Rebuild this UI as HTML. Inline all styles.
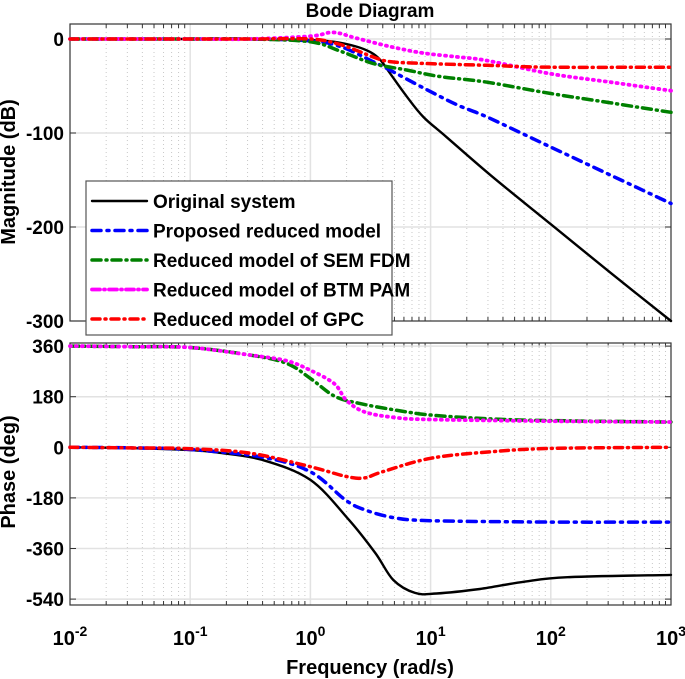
<!DOCTYPE html>
<html><head><meta charset="utf-8"><style>
body{margin:0;background:#fff}
svg{display:block;font-family:"Liberation Sans Narrow","Liberation Sans",sans-serif;font-weight:bold}
</style></head><body>
<svg id="c" width="685" height="679" viewBox="0 0 685 679"></svg>
<script>
// ---- data (x = log10 frequency) ----
const magOrigX=[-2,-1,-0.5,0,0.2,0.38,0.5,0.58,0.66,0.8,0.94,1.13,1.5,2,2.5,3];
const magOrig=[0,0,0,-1,-3,-8,-14,-22,-36,-61,-83,-104,-145,-197,-249,-300];
const magPropX=[-2,-1,-0.5,0,0.25,0.52,0.66,0.94,1.22,1.47,2,2.5,3];
const magProp=[0,0,0,-2,-8,-24,-33,-52,-70,-83,-115,-145,-175];
const magSemX=[-2,-1,-0.5,0,0.25,0.52,0.8,1.08,1.47,2,2.5,3];
const magSem=[0,0,0,-3,-13,-26,-33,-40,-46,-58,-68,-78];
const magBtmX=[-2,-1,-0.5,0,0.19,0.38,0.66,0.94,1.22,1.47,2,2.5,3];
const magBtm=[0,0,0,3,7,1,-8,-15,-19,-23,-37,-46,-55];
const magGpcX=[-2,-1,-0.5,0,0.25,0.52,0.66,0.94,1.47,2,3];
const magGpc=[0,0,0,0,-6,-19,-24,-26,-28,-30,-30];
const phOrigX=[-2,-1.5,-1,-0.77,-0.4,0,0.32,0.54,0.69,0.87,1.05,1.41,1.78,2.14,3];
const phOrig=[0,-3,-10,-19,-45,-116,-258,-376,-472,-518,-520,-504,-478,-462,-454];
const phPropX=[-2,-1.5,-1,-0.4,0,0.29,0.45,0.69,1,2,3];
const phProp=[0,-2,-8,-35,-87,-187,-222,-250,-261,-266,-266];
const phGpcX=[-2,-1.5,-1,-0.5,0,0.3,0.45,0.6,1,1.5,2,3];
const phGpc=[0,-2,-5,-21,-69,-104,-109,-87,-39,-16,-4,0];
const phSemX=[-2,-1.5,-1,-0.5,-0.2,0,0.2,0.4,0.7,1,1.5,2,3];
const phSem=[360,358,355,328,299,245,182,157,133,115,101,95,90];
const phBtmX=[-2,-1.5,-1,-0.5,-0.2,0,0.2,0.3,0.45,0.7,1,2,3];
const phBtm=[360,358,355,328,308,274,226,167,126,106,99,93,90];
const decLabels=["-2","-1","0","1","2","3"];
const magTicks=[0,-100,-200,-300];
const phTicks=[360,180,0,-180,-360,-540];

const NS="http://www.w3.org/2000/svg";
const svg=document.getElementById('c');
function el(t,a,p){const e=document.createElementNS(NS,t);for(const k in a)e.setAttribute(k,a[k]);(p||svg).appendChild(e);return e;}
const X0=70,X1=671;
const sx=l=>X0+(l+2)*(X1-X0)/5;
const syM=v=>39-v*0.94;
const syP=v=>447.3-v*0.2811;
const T1=24,B1=321,T2=343,B2=605;

function grid(top,bot,ticks,sy){
  for(let d=-2;d<3;d++){for(let m=2;m<10;m++){const x=sx(d+Math.log10(m));
    const g=el('line',{x1:x,x2:x,y1:top,y2:bot,stroke:'#c8c8c8','stroke-width':1,'stroke-dasharray':'1,3'});
    
    el('line',{x1:x,x2:x,y1:top,y2:top+4,stroke:'#333'});el('line',{x1:x,x2:x,y1:bot,y2:bot-4,stroke:'#333'});}}
  for(let d=-1;d<3;d++){const x=sx(d);const g=el('line',{x1:x,x2:x,y1:top,y2:bot,stroke:'#e2e2e2','stroke-width':1.5});
    }
  ticks.forEach(v=>{const y=sy(v);if(y>top+1&&y<bot-1){const g=el('line',{x1:X0,x2:X1,y1:y,y2:y,stroke:'#e2e2e2','stroke-width':1.5});
    }
    el('line',{x1:X0,x2:X0+6,y1:y,y2:y,stroke:'#333'});el('line',{x1:X1,x2:X1-6,y1:y,y2:y,stroke:'#333'});
    const t=el('text',{x:X0-6,y:y+7,'text-anchor':'end','font-size':19,fill:'#000'});t.textContent=String(v);
    });
  const r=el('rect',{x:X0,y:top,width:X1-X0,height:bot-top,fill:'none',stroke:'#333','stroke-width':1.2});
  
}
grid(T1,B1,magTicks,syM);grid(T2,B2,phTicks,syP);

function series(xs,vs,sy,color,dash,w,name,top,bot){
  const P=xs.map((l,i)=>[sx(l),Math.max(top,Math.min(bot,sy(vs[i])))]);
  let d='M'+P[0][0].toFixed(1)+','+P[0][1].toFixed(1);
  for(let i=0;i<P.length-1;i++){
    const p0=P[Math.max(0,i-1)],p1=P[i],p2=P[i+1],p3=P[Math.min(P.length-1,i+2)];
    const c1=[p1[0]+(p2[0]-p0[0])/6,p1[1]+(p2[1]-p0[1])/6];
    const c2=[p2[0]-(p3[0]-p1[0])/6,p2[1]-(p3[1]-p1[1])/6];
    d+=' C'+c1.map(v=>v.toFixed(1)).join(',')+' '+c2.map(v=>v.toFixed(1)).join(',')+' '+p2.map(v=>v.toFixed(1)).join(',');
  }
  const p=el('path',{d:d,fill:'none',stroke:color,'stroke-width':w,'stroke-dasharray':dash,'stroke-linecap':'round','stroke-linejoin':'round'});
  
}
const S={orig:['#000','none',2.4],prop:['#0000ff','9,6,2,6',3.5],sem:['#008000','9,5,1,5',3.5],btm:['#ff00ff','1,5',3.8],gpc:['#ff0000','8,5,1,5',3.5]};
series(magOrigX,magOrig,syM,...S.orig,'magnitude-original',T1,B1);
series(magPropX,magProp,syM,...S.prop,'magnitude-proposed',T1,B1);
series(magSemX,magSem,syM,...S.sem,'magnitude-sem-fdm',T1,B1);
series(magBtmX,magBtm,syM,...S.btm,'magnitude-btm-pam',T1,B1);
series(magGpcX,magGpc,syM,...S.gpc,'magnitude-gpc',T1,B1);
series(phOrigX,phOrig,syP,...S.orig,'phase-original',T2,B2);
series(phPropX,phProp,syP,...S.prop,'phase-proposed',T2,B2);
series(phSemX,phSem,syP,...S.sem,'phase-sem-fdm',T2,B2);
series(phBtmX,phBtm,syP,...S.btm,'phase-btm-pam',T2,B2);
series(phGpcX,phGpc,syP,...S.gpc,'phase-gpc',T2,B2);

decLabels.forEach((d,i)=>{const x=sx(i-2);
  const t=el('text',{x:x,y:645,'text-anchor':'middle','font-size':20,fill:'#000'});
  
  t.appendChild(document.createTextNode('10'));
  const s=el('tspan',{dy:-9,'font-size':14},t);s.textContent=d;});

// legend
const lg=el('g',{});
el('rect',{x:86,y:181,width:306,height:154,fill:'#fff',stroke:'#555','stroke-width':1.2},lg);
const legNames=["Original system","Proposed reduced model","Reduced model of SEM FDM","Reduced model of BTM PAM","Reduced model of GPC"];
const legKeys=['orig','prop','sem','btm','gpc'];
legNames.forEach((n,i)=>{const y=201+i*29.5;const s=S[legKeys[i]];
  const l=el('line',{x1:92,x2:147,y1:y,y2:y,stroke:s[0],'stroke-width':s[2],'stroke-dasharray':s[1]==='1,5'?'8,4,1,4':s[1],'stroke-linecap':'round'},lg);
  
  const t=el('text',{x:153,y:y+7,'font-size':19,fill:'#000'},lg);t.textContent=n;
  });

let t=el('text',{x:370,y:17,'text-anchor':'middle','font-size':19});t.textContent='Bode Diagram';

t=el('text',{x:370,y:674,'text-anchor':'middle','font-size':20});t.textContent='Frequency  (rad/s)';

t=el('text',{x:0,y:0,'text-anchor':'middle','font-size':20,transform:'translate(15,172) rotate(-90)','font-family':'Liberation Sans, sans-serif'});t.textContent='Magnitude (dB)';

t=el('text',{x:0,y:0,'text-anchor':'middle','font-size':20,transform:'translate(15,472) rotate(-90)','font-family':'Liberation Sans, sans-serif'});t.textContent='Phase (deg)';

</script>
</body></html>
